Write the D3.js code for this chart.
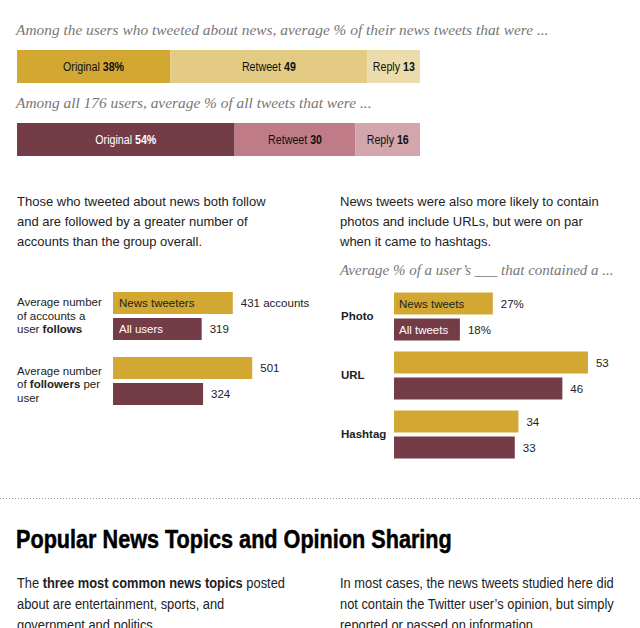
<!DOCTYPE html>
<html>
<head>
<meta charset="utf-8">
<title>News tweeters</title>
<script src="https://d3js.org/d3.v7.min.js"></script>
<style>
  body { margin: 0; background: #fff; }
  .ital { font-family: "Liberation Serif", serif; font-style: italic; fill: #777; font-size: 15.4px; }
  .para { font-family: "Liberation Sans", sans-serif; fill: #222; font-size: 13px; }
  .seg { font-family: "Liberation Sans", sans-serif; font-size: 13.5px; fill: #111; }
  .lbl { font-family: "Liberation Sans", sans-serif; font-size: 11.5px; fill: #222; }
  .head { font-family: "Liberation Sans", sans-serif; font-weight: bold; font-size: 26px; fill: #000; stroke: #000; stroke-width: 0.5px; }
  .body2 { font-family: "Liberation Sans", sans-serif; font-size: 15.5px; fill: #222; }
</style>
</head>
<body>
<div id="chart"></div>
<script>
// stacked shares
var mixCats = ["Original", "Retweet", "Reply"];
var newsMix = [38, 49, 13];
var allMix = [54, 30, 16];

// follows / followers
var followCats = ["follows", "followers"];
var followNews = [431, 501];
var followAll = [319, 324];

// tweet content
var contentCats = ["Photo", "URL", "Hashtag"];
var contentNews = [27, 53, 34];
var contentAll = [18, 46, 33];

var gold = ["#d3a832", "#e3cb84", "#eddcab"];
var wine = ["#733c47", "#bf7b87", "#d3a6ad"];

var svg = d3.select("#chart").append("svg")
  .attr("width", 640).attr("height", 628).style("display", "block");

// no narrow font here, so text gets squeezed sideways with a transform
function narrowText(parent, cls, x, y, f) {
  return parent.append("text").attr("class", cls)
    .attr("transform", "translate(" + x + "," + y + ") scale(" + f + ",1)");
}

// ---- stacked bars
var xs = d3.scaleLinear().domain([0, 100]).range([17, 420]);

function stacked(vals, y0, colors, firstWhite) {
  var starts = d3.cumsum([0].concat(vals)).slice(0, vals.length);
  var g = svg.append("g");
  g.selectAll("rect").data(vals).enter().append("rect")
    .attr("x", (d, i) => xs(starts[i]))
    .attr("width", (d, i) => xs(starts[i] + d) - xs(starts[i]))
    .attr("y", y0).attr("height", 33)
    .attr("fill", (d, i) => colors[i]);
  vals.forEach(function (d, i) {
    var t = narrowText(g, "seg", xs(starts[i] + d / 2), y0 + 21, 0.79)
      .attr("text-anchor", "middle")
      .style("fill", (i == 0 && firstWhite) ? "#fff" : "#111");
    t.append("tspan").text(mixCats[i] + " ");
    t.append("tspan").attr("font-weight", "bold").text(d + (i == 0 ? "%" : ""));
  });
}

svg.append("text").attr("class", "ital").attr("x", 16).attr("y", 35)
  .text("Among the users who tweeted about news, average % of their news tweets that were ...");
stacked(newsMix, 50, gold, false);
svg.append("text").attr("class", "ital").attr("x", 16).attr("y", 108)
  .text("Among all 176 users, average % of all tweets that were ...");
stacked(allMix, 123, wine, true);

// ---- paragraphs
function lines(cls, x, y0, lh, arr) {
  return svg.selectAll(null).data(arr).enter().append("text")
    .attr("class", cls).attr("x", x).attr("y", (d, i) => y0 + i * lh)
    .text(d => d);
}
lines("para", 17, 205.5, 20.2, [
  "Those who tweeted about news both follow",
  "and are followed by a greater number of",
  "accounts than the group overall."]);
lines("para", 340, 205.5, 20.2, [
  "News tweets were also more likely to contain",
  "photos and include URLs, but were on par",
  "when it came to hashtags."]);

svg.append("text").attr("class", "ital").attr("x", 340).attr("y", 275)
  .style("font-size", "15px")
  .text("Average % of a user\u2019s ___ that contained a ...");

// ---- left grouped bars
var xl = d3.scaleLinear().domain([0, 500]).range([0, 139]);
var yl = d3.scaleBand().domain(followCats).range([292, 422]);
var bh = 22;
var gl = svg.append("g").attr("transform", "translate(113,0)");

gl.selectAll(".n").data(followNews).enter().append("rect")
  .attr("x", 0).attr("y", (d, i) => yl(followCats[i]))
  .attr("width", d => xl(d)).attr("height", bh).attr("fill", gold[0]);
gl.selectAll(".a").data(followAll).enter().append("rect")
  .attr("x", 0).attr("y", (d, i) => yl(followCats[i]) + bh + 4)
  .attr("width", d => xl(d)).attr("height", bh).attr("fill", wine[0]);

gl.selectAll(".nv").data(followNews).enter().append("text")
  .attr("class", "lbl").attr("x", d => xl(d) + 8)
  .attr("y", (d, i) => yl(followCats[i]) + 15)
  .text((d, i) => d + (i == 0 ? " accounts" : ""));
gl.selectAll(".av").data(followAll).enter().append("text")
  .attr("class", "lbl").attr("x", d => xl(d) + 8)
  .attr("y", (d, i) => yl(followCats[i]) + bh + 19)
  .text(d => d);
gl.append("text").attr("class", "lbl").attr("x", 6).attr("y", yl("follows") + 15).text("News tweeters");
gl.append("text").attr("class", "lbl").attr("x", 6).attr("y", yl("follows") + bh + 19)
  .style("fill", "#fff").text("All users");

var leftLabels = [
  [["Average number"], ["of accounts a"], ["user ", "follows"]],
  [["Average number"], ["of ", "followers", " per"], ["user"]]
];
var leftOff = [14, 17.5];
leftLabels.forEach(function (ls, gi) {
  ls.forEach(function (parts, li) {
    var t = svg.append("text").attr("class", "lbl").attr("x", 17)
      .attr("y", yl(followCats[gi]) + leftOff[gi] + li * 13.5);
    parts.forEach(function (p, pi) {
      t.append("tspan").attr("font-weight", pi == 1 ? "bold" : null).text(p);
    });
  });
});

// ---- right grouped bars
var xr = d3.scaleLinear().domain([0, 100]).range([0, 366]);
var yr = d3.scaleBand().domain(contentCats).range([292.5, 292.5 + 59 * 3]);
var gr = svg.append("g").attr("transform", "translate(394,0)");

gr.selectAll(".n").data(contentNews).enter().append("rect")
  .attr("x", 0).attr("y", (d, i) => yr(contentCats[i]))
  .attr("width", d => xr(d)).attr("height", bh).attr("fill", gold[0]);
gr.selectAll(".a").data(contentAll).enter().append("rect")
  .attr("x", 0).attr("y", (d, i) => yr(contentCats[i]) + bh + 4)
  .attr("width", d => xr(d)).attr("height", bh).attr("fill", wine[0]);
gr.selectAll(".nv").data(contentNews).enter().append("text")
  .attr("class", "lbl").attr("x", d => xr(d) + 8)
  .attr("y", (d, i) => yr(contentCats[i]) + 15)
  .text((d, i) => d + (i == 0 ? "%" : ""));
gr.selectAll(".av").data(contentAll).enter().append("text")
  .attr("class", "lbl").attr("x", d => xr(d) + 8)
  .attr("y", (d, i) => yr(contentCats[i]) + bh + 19)
  .text((d, i) => d + (i == 0 ? "%" : ""));
gr.append("text").attr("class", "lbl").attr("x", 5).attr("y", yr("Photo") + 15).text("News tweets");
gr.append("text").attr("class", "lbl").attr("x", 5).attr("y", yr("Photo") + bh + 19)
  .style("fill", "#fff").text("All tweets");

svg.selectAll(".cat").data(contentCats).enter().append("text")
  .attr("class", "lbl").attr("font-weight", "bold")
  .attr("x", 341).attr("y", d => yr(d) + bh + 5)
  .text(d => d);

// ---- divider + next section
svg.append("line").attr("x1", 0).attr("x2", 640).attr("y1", 498.5).attr("y2", 498.5)
  .attr("stroke", "#999").attr("stroke-dasharray", "1,2");

var head = narrowText(svg, "head", 16, 548, 1).text("Popular News Topics and Opinion Sharing");
var hw = head.node().getComputedTextLength();
head.attr("transform", "translate(16,548) scale(" + (436 / hw) + ",1)");

var b1 = narrowText(svg, "body2", 17, 588, 0.83);
b1.append("tspan").text("The ");
b1.append("tspan").attr("font-weight", "bold").text("three most common news topics");
b1.append("tspan").text(" posted");
["about are entertainment, sports, and", "government and politics."].forEach(function (s, i) {
  narrowText(svg, "body2", 17, 609 + i * 21, 0.83).text(s);
});
["In most cases, the news tweets studied here did",
 "not contain the Twitter user\u2019s opinion, but simply",
 "reported or passed on information."].forEach(function (s, i) {
  narrowText(svg, "body2", 340, 588 + i * 21, 0.83).text(s);
});
</script>
</body>
</html>
